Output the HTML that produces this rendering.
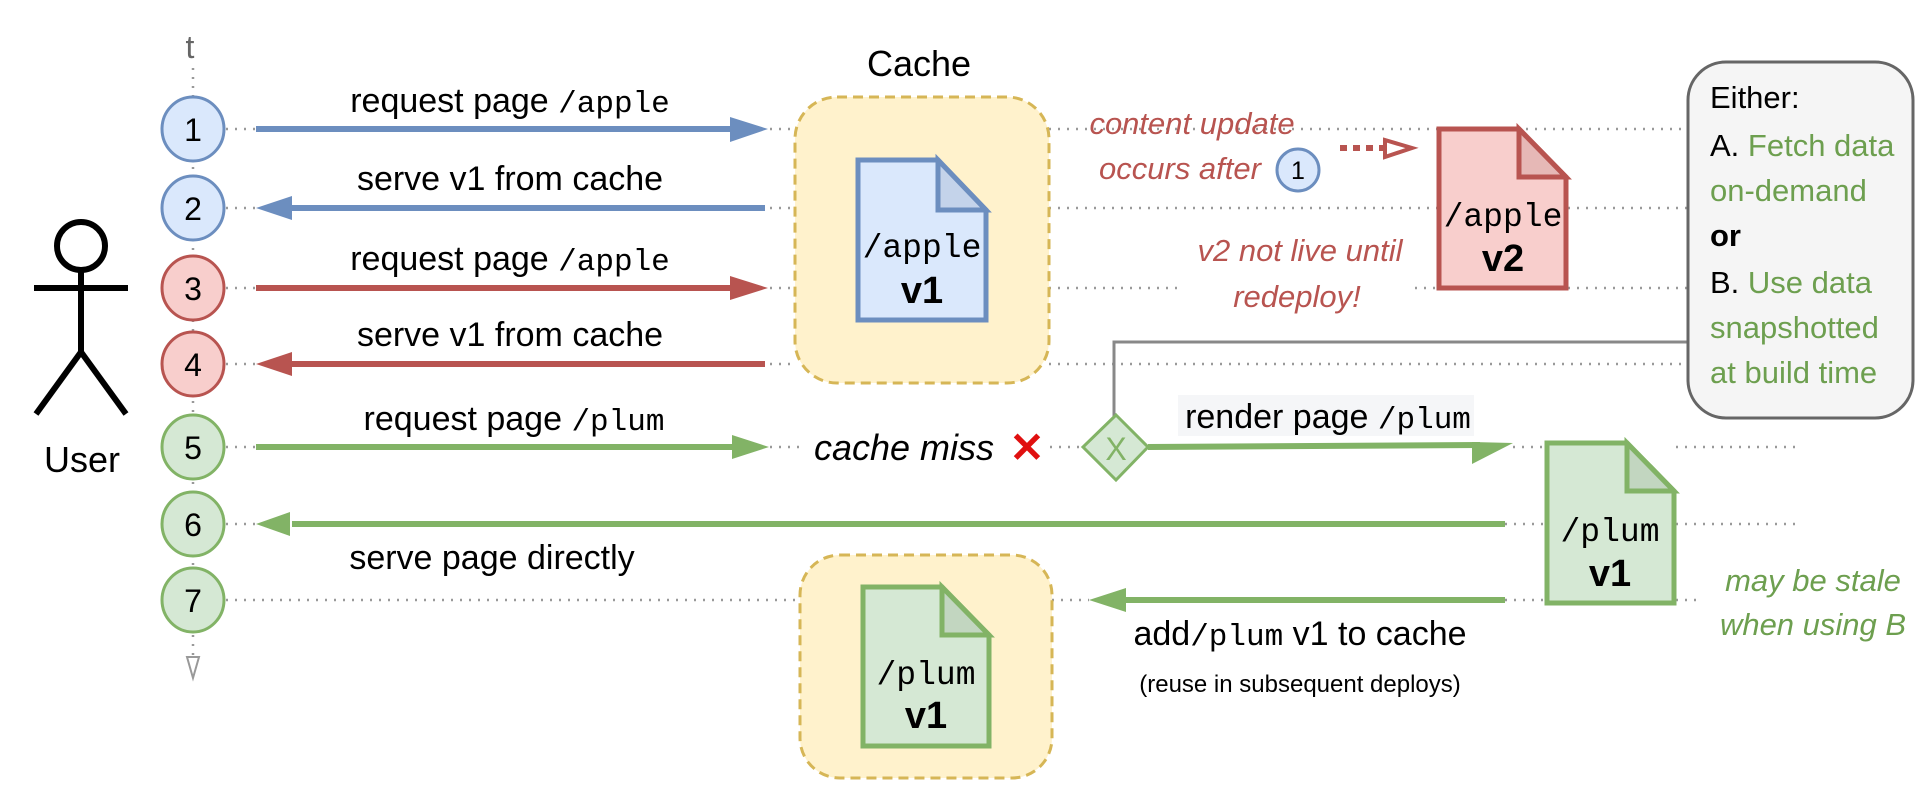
<!DOCTYPE html>
<html><head><meta charset="utf-8"><style>
html,body{margin:0;padding:0;background:#fff;}
svg{display:block;}
text{font-family:"Liberation Sans",sans-serif;}
.m{font-family:"Liberation Mono",monospace;}
</style></head><body>
<svg width="1920" height="799" viewBox="0 0 1920 799" xmlns="http://www.w3.org/2000/svg">
<g stroke="#999" stroke-width="2.5" stroke-dasharray="2,7" fill="none">
<line x1="193" y1="68" x2="193" y2="660"/>
<line x1="226" y1="129" x2="256" y2="129"/><line x1="770" y1="129" x2="795" y2="129"/><line x1="1049" y1="129" x2="1687" y2="129"/>
<line x1="226" y1="208" x2="256" y2="208"/><line x1="770" y1="208" x2="795" y2="208"/><line x1="1049" y1="208" x2="1437" y2="208"/><line x1="1568" y1="208" x2="1687" y2="208"/>
<line x1="226" y1="288" x2="256" y2="288"/><line x1="770" y1="288" x2="795" y2="288"/><line x1="1049" y1="288" x2="1180" y2="288"/><line x1="1415" y1="288" x2="1437" y2="288"/><line x1="1568" y1="288" x2="1687" y2="288"/>
<line x1="226" y1="364" x2="256" y2="364"/><line x1="770" y1="364" x2="795" y2="364"/><line x1="1049" y1="364" x2="1687" y2="364"/>
<line x1="226" y1="447" x2="256" y2="447"/><line x1="770" y1="447" x2="800" y2="447"/><line x1="1050" y1="447" x2="1083" y2="447"/><line x1="1513" y1="447" x2="1545" y2="447"/><line x1="1676" y1="447" x2="1797" y2="447"/>
<line x1="226" y1="524" x2="256" y2="524"/><line x1="1505" y1="524" x2="1545" y2="524"/><line x1="1676" y1="524" x2="1797" y2="524"/>
<line x1="226" y1="600" x2="800" y2="600"/><line x1="1052" y1="600" x2="1089" y2="600"/><line x1="1505" y1="600" x2="1545" y2="600"/><line x1="1676" y1="600" x2="1700" y2="600"/>
</g>
<polygon points="187,657 199,657 193,678" fill="#fff" stroke="#999" stroke-width="2"/>
<text x="190" y="58" font-size="32" fill="#666" text-anchor="middle">t</text>

<g stroke="#000" stroke-width="6" fill="none">
<circle cx="81" cy="246" r="24"/>
<line x1="34" y1="288" x2="128" y2="288"/>
<line x1="81" y1="270" x2="81" y2="352"/>
<line x1="81" y1="352" x2="36" y2="414"/>
<line x1="81" y1="352" x2="126" y2="414"/>
</g>
<text x="82" y="472" font-size="36" text-anchor="middle">User</text>

<g stroke-width="3">
<ellipse cx="193" cy="129" rx="31" ry="32" fill="#dae8fc" stroke="#6c8ebf"/>
<ellipse cx="193" cy="208" rx="31" ry="32" fill="#dae8fc" stroke="#6c8ebf"/>
<ellipse cx="193" cy="288" rx="31" ry="32" fill="#f8cecc" stroke="#b85450"/>
<ellipse cx="193" cy="364" rx="31" ry="32" fill="#f8cecc" stroke="#b85450"/>
<ellipse cx="193" cy="447" rx="31" ry="32" fill="#d5e8d4" stroke="#82b366"/>
<ellipse cx="193" cy="524" rx="31" ry="32" fill="#d5e8d4" stroke="#82b366"/>
<ellipse cx="193" cy="600" rx="31" ry="32" fill="#d5e8d4" stroke="#82b366"/>
</g>
<g font-size="32" text-anchor="middle">
<text x="193" y="141">1</text><text x="193" y="220">2</text><text x="193" y="300">3</text><text x="193" y="376">4</text><text x="193" y="459">5</text><text x="193" y="536">6</text><text x="193" y="612">7</text>
</g>

<g stroke-width="6">
<line x1="256" y1="129" x2="735" y2="129" stroke="#6c8ebf"/>
<line x1="292" y1="208" x2="765" y2="208" stroke="#6c8ebf"/>
<line x1="256" y1="288" x2="735" y2="288" stroke="#b85450"/>
<line x1="292" y1="364" x2="765" y2="364" stroke="#b85450"/>
<line x1="256" y1="447" x2="735" y2="447" stroke="#82b366"/>
<line x1="292" y1="524" x2="1505" y2="524" stroke="#82b366"/>
<line x1="1120" y1="600" x2="1505" y2="600" stroke="#82b366"/>
<line x1="1148" y1="447" x2="1480" y2="445" stroke="#82b366"/>
</g>
<polygon points="730,117 768,129 730,142" fill="#6c8ebf"/>
<polygon points="292,196 256,208 292,220" fill="#6c8ebf"/>
<polygon points="730,276 768,288 730,300" fill="#b85450"/>
<polygon points="292,352 256,364 292,376" fill="#b85450"/>
<polygon points="732,435 769,447 732,459" fill="#82b366"/>
<polygon points="290,512 256,524 290,536" fill="#82b366"/>
<polygon points="1126,588 1089,600 1126,612" fill="#82b366"/>
<polygon points="1472,442 1513,443 1472,464" fill="#82b366"/>

<g font-size="34" text-anchor="middle">
<text x="510" y="112">request page <tspan class="m" font-size="31">/apple</tspan></text>
<text x="510" y="190">serve v1 from cache</text>
<text x="510" y="270">request page <tspan class="m" font-size="31">/apple</tspan></text>
<text x="510" y="346">serve v1 from cache</text>
<text x="514" y="430">request page <tspan class="m" font-size="31">/plum</tspan></text>
<text x="492" y="569">serve page directly</text>
</g>

<text x="919" y="76" font-size="36" text-anchor="middle">Cache</text>
<rect x="795" y="97" width="254" height="286" rx="42" fill="#fff2cc" stroke="#d6b656" stroke-width="3" stroke-dasharray="10,6"/>
<rect x="800" y="555" width="252" height="223" rx="40" fill="#fff2cc" stroke="#d6b656" stroke-width="3" stroke-dasharray="10,6"/>

<path d="M858,160 H938 L986,210 V320 H858 Z" fill="#dae8fc" stroke="#6c8ebf" stroke-width="5"/>
<path d="M938,160 V210 H986 Z" fill="#c4d3ea" stroke="#6c8ebf" stroke-width="5"/>
<text x="922" y="257" class="m" font-size="33" text-anchor="middle">/apple</text>
<text x="922" y="303" font-size="38" font-weight="bold" text-anchor="middle">v1</text>

<path d="M1439,129 H1519 L1566,177 V288 H1439 Z" fill="#f8cecc" stroke="#b85450" stroke-width="5"/>
<path d="M1519,129 V177 H1566 Z" fill="#e6b8b6" stroke="#b85450" stroke-width="5"/>
<text x="1503" y="226" class="m" font-size="33" text-anchor="middle">/apple</text>
<text x="1503" y="271" font-size="38" font-weight="bold" text-anchor="middle">v2</text>

<path d="M1547,443 H1627 L1674,491 V603 H1547 Z" fill="#d5e8d4" stroke="#82b366" stroke-width="5"/>
<path d="M1627,443 V491 H1674 Z" fill="#c2d6c0" stroke="#82b366" stroke-width="5"/>
<text x="1610" y="541" class="m" font-size="33" text-anchor="middle">/plum</text>
<text x="1610" y="586" font-size="38" font-weight="bold" text-anchor="middle">v1</text>

<path d="M863,587 H942 L989,635 V746 H863 Z" fill="#d5e8d4" stroke="#82b366" stroke-width="5"/>
<path d="M942,587 V635 H989 Z" fill="#c2d6c0" stroke="#82b366" stroke-width="5"/>
<text x="926" y="684" class="m" font-size="33" text-anchor="middle">/plum</text>
<text x="926" y="728" font-size="38" font-weight="bold" text-anchor="middle">v1</text>

<g font-size="31" font-style="italic" fill="#b85450" text-anchor="middle">
<text x="1192" y="134">content update</text>
<text x="1180" y="179">occurs after</text>
<text x="1300" y="261">v2 not live until</text>
<text x="1297" y="307">redeploy!</text>
</g>
<circle cx="1298" cy="170" r="21" fill="#dae8fc" stroke="#6c8ebf" stroke-width="3"/>
<text x="1298" y="179" font-size="25" text-anchor="middle">1</text>
<line x1="1340" y1="148" x2="1385" y2="148" stroke="#b85450" stroke-width="6" stroke-dasharray="7,6"/>
<polygon points="1385,140 1412,148 1385,157" fill="#fff" stroke="#b85450" stroke-width="4"/>

<path d="M1114,420 V342 H1687" fill="none" stroke="#888" stroke-width="3"/>
<rect x="1688" y="62" width="225" height="356" rx="38" fill="#f5f5f5" stroke="#666" stroke-width="3"/>
<g font-size="31">
<text x="1710" y="108">Either:</text>
<text x="1710" y="156">A. <tspan fill="#6d9f4f">Fetch data</tspan></text>
<text x="1710" y="201" fill="#6d9f4f">on-demand</text>
<text x="1710" y="246" font-weight="bold">or</text>
<text x="1710" y="293">B. <tspan fill="#6d9f4f">Use data</tspan></text>
<text x="1710" y="338" fill="#6d9f4f">snapshotted</text>
<text x="1710" y="383" fill="#6d9f4f">at build time</text>
</g>

<text x="904" y="460" font-size="36" font-style="italic" text-anchor="middle">cache miss</text>
<text x="1027" y="462" font-size="42" font-weight="bold" fill="#e01010" text-anchor="middle">✕</text>
<polygon points="1116,415 1148,447 1116,480 1083,447" fill="#d5e8d4" stroke="#82b366" stroke-width="3"/>
<text x="1116" y="460" font-size="32" fill="#82b366" text-anchor="middle">X</text>
<rect x="1178" y="395" width="296" height="41" fill="#f5f6f8"/>
<text x="1328" y="428" font-size="34" text-anchor="middle">render page <tspan class="m" font-size="31">/plum</tspan></text>

<text x="1300" y="645" font-size="34" text-anchor="middle">add<tspan class="m" font-size="31">/plum</tspan> v1 to cache</text>
<text x="1300" y="692" font-size="24" text-anchor="middle">(reuse in subsequent deploys)</text>

<g font-size="31" font-style="italic" fill="#6d9f4f" text-anchor="middle">
<text x="1813" y="591">may be stale</text>
<text x="1813" y="635">when using B</text>
</g>
</svg>
</body></html>
